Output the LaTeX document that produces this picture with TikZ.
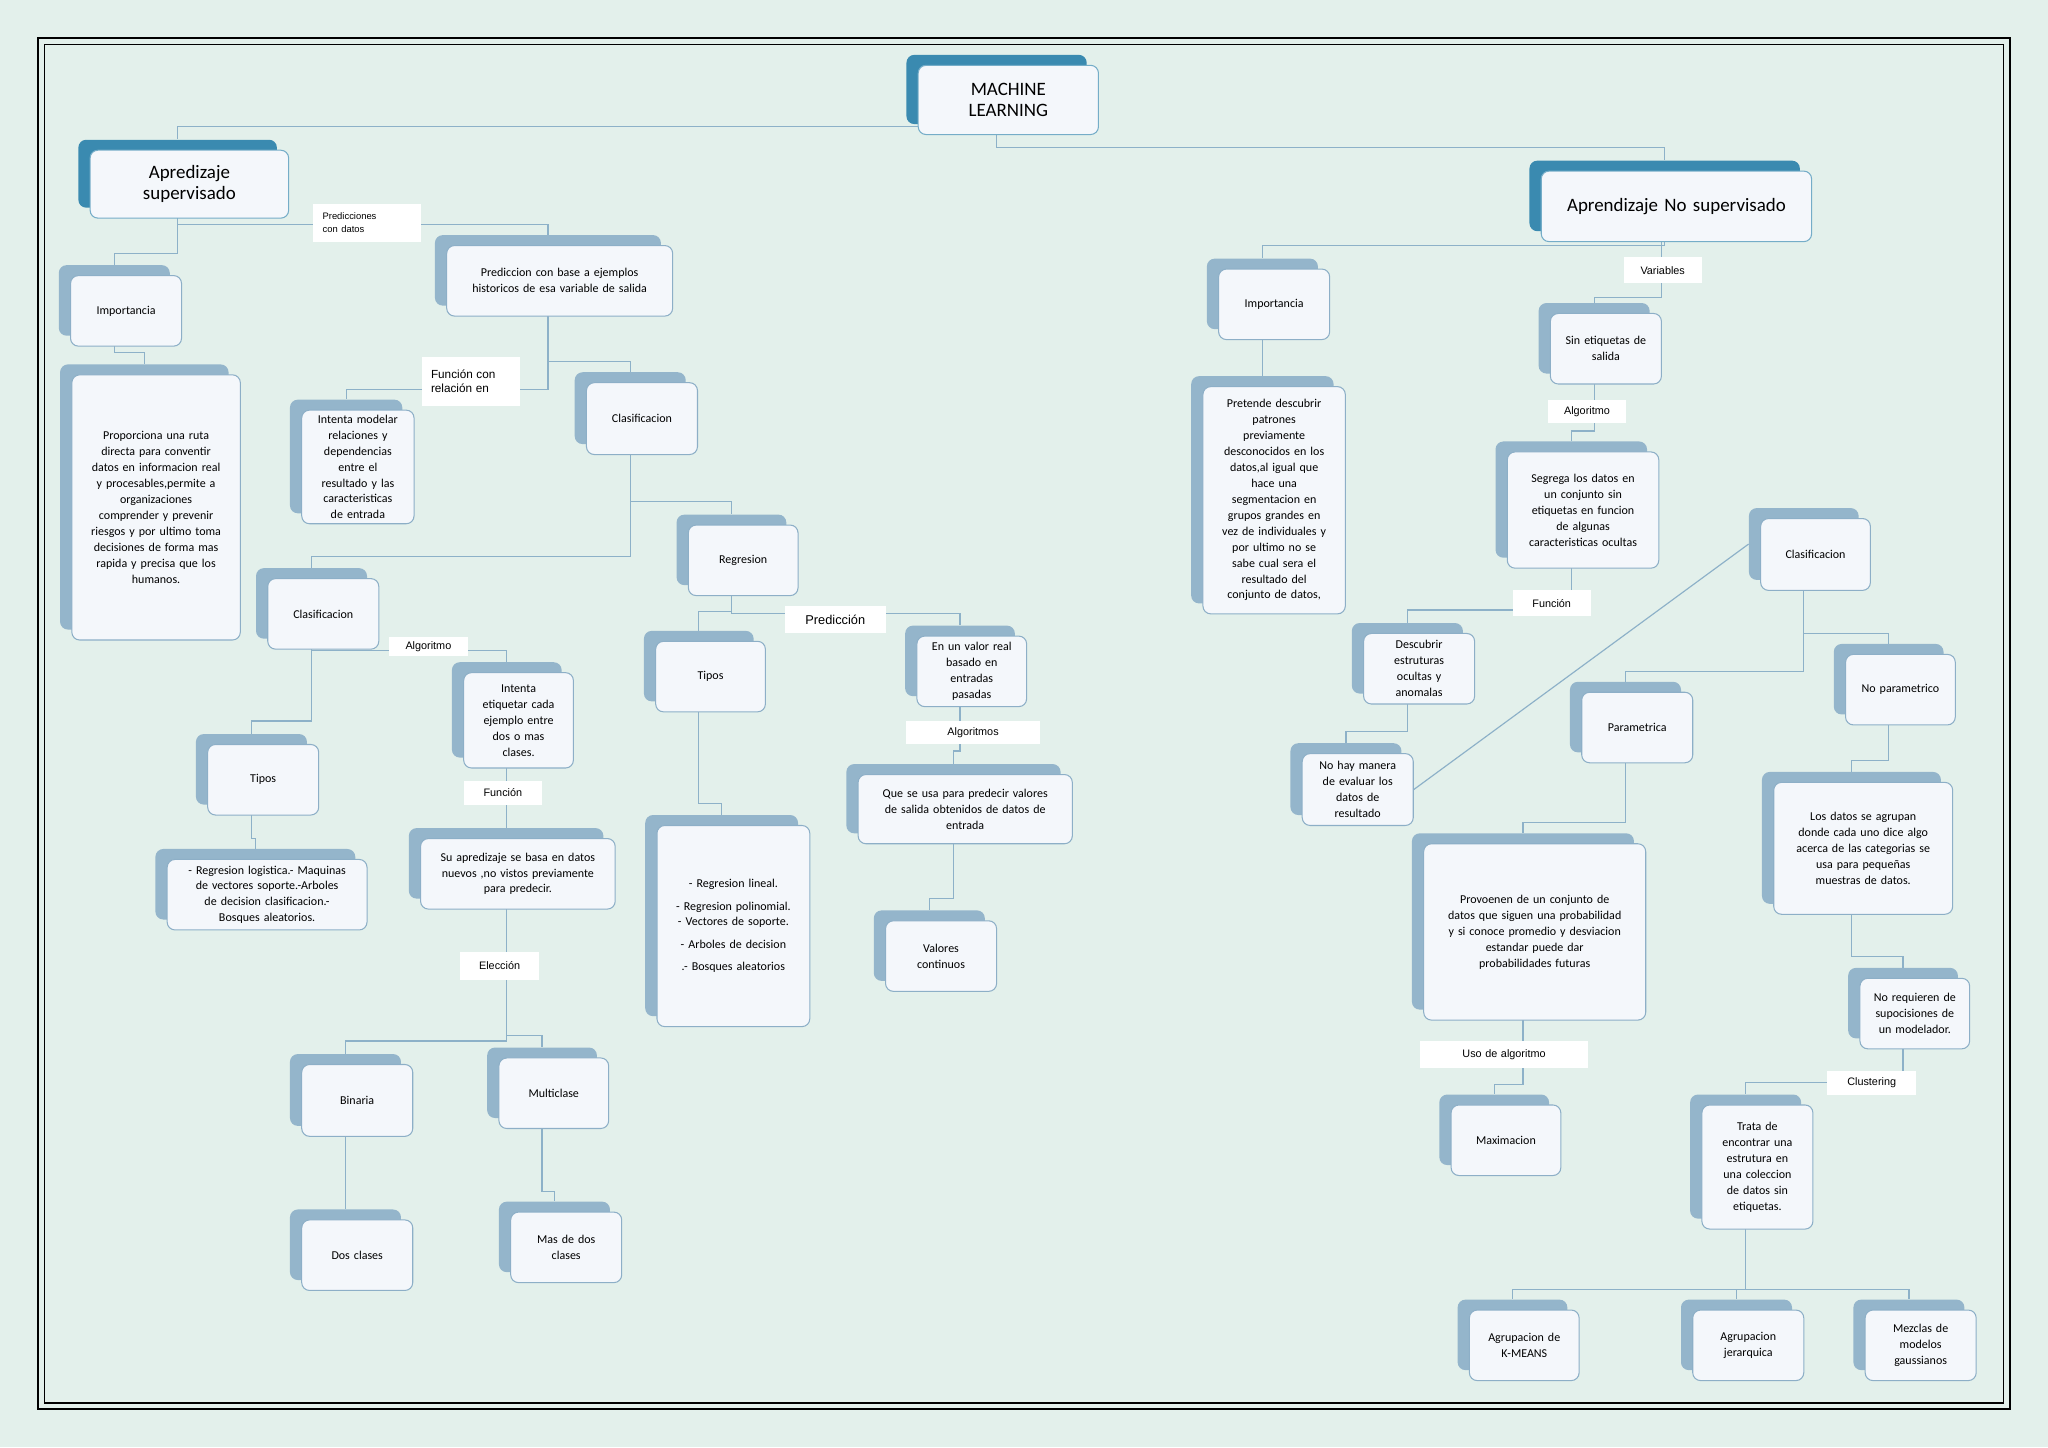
\documentclass[tikz,border=0pt]{standalone}
\usepackage{fontspec}
\setmainfont{Carlito}
\newfontfamily\lab{Liberation Sans}
\pgfdeclarelayer{bg}
\pgfdeclarelayer{lines}
\pgfsetlayers{bg,lines,main}
\definecolor{bgc}{HTML}{E3F0EB}
\definecolor{backc}{HTML}{94B5CB}
\definecolor{topc}{HTML}{3A8AB0}
\definecolor{frc}{HTML}{F4F7FB}
\definecolor{brc}{HTML}{8DAFC7}
\definecolor{lnc}{HTML}{8DB1C8}
\tikzset{
 ln/.style={draw=lnc,line width=0.9pt},
 backbox/.style={fill=backc,rounded corners=6pt,inner sep=0pt},
 frontbox/.style={fill=frc,draw=brc,line width=0.8pt,rounded corners=6pt,inner sep=0pt,align=center,font=\fontsize{9.2}{12.2}\selectfont},
 labbox/.style={fill=white,inner sep=0pt,font=\lab\fontsize{8.3}{10.5}\selectfont}
}
\newcommand\bx[6]{%
 \pgfmathsetmacro\mybw{#4-#2}\pgfmathsetmacro\mybh{#5-#3}\pgfmathsetmacro\mytw{#4-#2-6}%
 \node[backbox,minimum width=\mybw pt,minimum height=\mybh pt] (#1b) at ({(#2+#4)/2-9},{(#3+#5)/2-8}) {};
 \node[frontbox,minimum width=\mybw pt,minimum height=\mybh pt,text width=\mytw pt] (#1) at ({(#2+#4)/2},{(#3+#5)/2}) {#6};}
\newcommand\bxt[6]{%
 \pgfmathsetmacro\mybw{#4-#2}\pgfmathsetmacro\mybh{#5-#3}\pgfmathsetmacro\mytw{#4-#2-8}%
 \node[backbox,fill=topc,minimum width=\mybw pt,minimum height=\mybh pt] (#1b) at ({(#2+#4)/2-9},{(#3+#5)/2-8}) {};
 \node[frontbox,draw=topc!70,minimum width=\mybw pt,minimum height=\mybh pt,text width=\mytw pt,font=\fontsize{14.5}{16.5}\selectfont] (#1) at ({(#2+#4)/2},{(#3+#5)/2}) {#6};}
\newcommand\lb[7][center]{%
 \pgfmathsetmacro\mybw{#5-#3}\pgfmathsetmacro\mybh{#6-#4}\pgfmathsetmacro\mytw{#5-#3-14}%
 \node[labbox,minimum width=\mybw pt,minimum height=\mybh pt,text width=\mytw pt,align=#1] (#2) at ({(#3+#5)/2},{(#4+#6)/2}) {#7};}
\newcommand\cn[3]{\draw[ln] (#1b.south) -- (#1b.south |- 0,#3) -| (#2b.north);}
\begin{document}
\begin{tikzpicture}[x=1pt,y=-1pt]
\hyphenpenalty=10000 \exhyphenpenalty=10000
\useasboundingbox (0,0) rectangle (1568,1108);
\begin{pgfonlayer}{bg}
\fill[bgc] (0,0) rectangle (1568,1108);
\end{pgfonlayer}
\draw[black,line width=1.6pt] (29,29) rectangle (1539,1079);
\draw[black,line width=1.2pt] (34,34) rectangle (1534,1074);
% boxes
\bxt{ML}{703}{50}{841}{103}{MACHINE\\LEARNING}
\bxt{AS}{69}{115}{221}{167}{Apredizaje\\supervisado}
\bxt{NS}{1180}{131}{1387}{185}{Aprendizaje No supervisado}
\bx{IL}{54}{211}{139}{265}{Importancia}
\bx{PB}{342}{188}{515}{242}{Prediccion con base a ejemplos\\historicos de esa variable de salida}
\bx{PR}{55}{287}{184}{490}{Proporciona una ruta\\directa para conventir\\datos en informacion real\\y procesables,permite a\\organizaciones\\comprender y prevenir\\riesgos y por ultimo toma\\decisiones de forma mas\\rapida y precisa que los\\humanos.}
\bx{IM}{231}{314}{317}{401}{Intenta modelar\\relaciones y\\dependencias\\entre el\\resultado y las\\caracteristicas\\de entrada}
\bx{CU}{449}{293}{534}{348}{Clasificacion}
\bx{RG}{527}{402}{611}{456}{Regresion}
\bx{CL}{205}{443}{290}{497}{Clasificacion}
\bx{IE}{355}{515}{439}{588}{Intenta\\etiquetar cada\\ejemplo entre\\dos o mas\\clases.}
\bx{TL}{159}{570}{244}{624}{Tipos}
\bx{SA}{322}{642}{471}{696}{Su apredizaje se basa en datos\\nuevos ,no vistos previamente\\para predecir.}
\bx{RL}{128}{658}{281}{712}{- Regresion logistica.- Maquinas\\de vectores soporte.-Arboles\\de decision clasificacion.-\\Bosques aleatorios.}
\bx{BI}{231}{815}{316}{870}{Binaria}
\bx{MC}{382}{810}{466}{864}{Multiclase}
\bx{DC}{231}{934}{316}{988}{Dos clases}
\bx{MD}{391}{928}{476}{982}{Mas de dos\\clases}
\bx{TM}{502}{491}{586}{545}{Tipos}
\bx{EV}{702}{487}{786}{541}{En un valor real\\basado en\\entradas\\pasadas}
\bx{QS}{657}{593}{821}{646}{Que se usa para predecir valores\\de salida obtenidos de datos de\\entrada}
\bx{LS}{503}{632}{620}{786}{- Regresion lineal.\\[5pt]- Regresion polinomial.\\- Vectores de soporte.\\[5pt]- Arboles de decision\\[5pt].- Bosques aleatorios}
\bx{VC}{678}{705}{763}{759}{Valores\\continuos}
\bx{IR}{933}{206}{1018}{260}{Importancia}
\bx{SE}{1187}{240}{1272}{294}{Sin etiquetas de\\salida}
\bx{PD}{921}{296}{1030}{470}{Pretende descubrir\\patrones\\previamente\\desconocidos en los\\datos,al igual que\\hace una\\segmentacion en\\grupos grandes en\\vez de individuales y\\por ultimo no se\\sabe cual sera el\\resultado del\\conjunto de datos,}
\bx{SG}{1154}{346}{1270}{435}{Segrega los datos en\\un conjunto sin\\etiquetas en funcion\\de algunas\\caracteristicas ocultas}
\bx{CR}{1348}{397}{1432}{452}{Clasificacion}
\bx{DE}{1044}{485}{1129}{539}{Descubrir\\estruturas\\ocultas y\\anomalas}
\bx{NP}{1413}{501}{1497}{555}{No parametrico}
\bx{PA}{1211}{530}{1296}{584}{Parametrica}
\bx{NH}{997}{577}{1082}{632}{No hay manera\\de evaluar los\\datos de\\resultado}
\bx{LD}{1358}{599}{1495}{700}{Los datos se agrupan\\donde cada uno dice algo\\acerca de las categorias se\\usa para peque\~nas\\muestras de datos.}
\bx{PV}{1090}{646}{1260}{781}{Provoenen de un conjunto de\\datos que siguen una probabilidad\\y si conoce promedio y desviacion\\estandar puede dar\\probabilidades futuras}
\bx{NR}{1424}{749}{1508}{803}{No requieren de\\supocisiones de\\un modelador.}
\bx{MX}{1111}{846}{1195}{900}{Maximacion}
\bx{TE}{1303}{846}{1388}{941}{Trata de\\encontrar una\\estrutura en\\una coleccion\\de datos sin\\etiquetas.}
\bx{KM}{1125}{1003}{1209}{1057}{Agrupacion de\\K-MEANS}
\bx{AJ}{1296}{1003}{1381}{1057}{Agrupacion\\jerarquica}
\bx{MZ}{1428}{1003}{1513}{1057}{Mezclas de\\modelos\\gaussianos}
% labels
\lb[left]{l1}{240}{156}{322}{185}{\fontsize{7.2}{10}\selectfont Predicciones\\con datos}
\lb[left]{l2}{323}{273}{398}{311}{\fontsize{9}{12}\selectfont Función con\\relación en}
\lb{l3}{298}{488}{358}{502}{Algoritmo}
\lb{l4}{355}{598}{415}{616}{Función}
\lb{l5}{352}{729}{413}{750}{Elección}
\lb{l6}{601}{464}{678}{485}{\fontsize{9.8}{11}\selectfont Predicción}
\lb{l7}{694}{552}{796}{570}{Algoritmos}
\lb{l8}{1243}{197}{1303}{217}{Variables}
\lb{l9}{1185}{306}{1245}{324}{Algoritmo}
\lb{l10}{1158}{452}{1218}{472}{Función}
\lb{l11}{1087}{797}{1216}{818}{Uso de algoritmo}
\lb{l12}{1399}{820}{1467}{838}{Clustering}
% connectors
\begin{pgfonlayer}{lines}
\draw[ln] (ML.west |- 0,97) -| (ASb.north);
\draw[ln] (763,103) -- (763,113) -| (NSb.north);
\cn{AS}{IL}{194}
\draw[ln] (ASb.south |- 0,172) -| (PBb.north);
\cn{IL}{PR}{270}
\cn{PB}{IM}{298}
\cn{PB}{CU}{277}
\cn{CU}{CL}{426}
\cn{CU}{RG}{384}
\cn{RG}{TM}{468}
\cn{RG}{EV}{470}
\cn{CL}{TL}{552}
\cn{CL}{IE}{498}
\cn{TL}{RL}{642}
\cn{IE}{SA}{625}
\cn{SA}{BI}{797}
\cn{SA}{MC}{793}
\cn{BI}{DC}{915}
\cn{MC}{MD}{912}
\cn{TM}{LS}{615}
\cn{EV}{QS}{575}
\cn{QS}{VC}{688}
\cn{NS}{IR}{188}
\draw[ln] (1272,185) -- (1272,228) -| (SEb.north);
\cn{IR}{PD}{275}
\cn{SE}{SG}{330}
\cn{SG}{DE}{467}
\cn{DE}{NH}{560}
\draw[ln] (NH.east) -- (CRb.west);
\cn{CR}{NP}{485}
\cn{CR}{PA}{514}
\cn{PA}{PV}{630}
\cn{NP}{LD}{582}
\cn{PV}{MX}{830}
\cn{LD}{NR}{732}
\cn{NR}{TE}{829}
\cn{TE}{KM}{987}
\cn{TE}{AJ}{987}
\cn{TE}{MZ}{987}
\end{pgfonlayer}
\end{tikzpicture}
\end{document}
